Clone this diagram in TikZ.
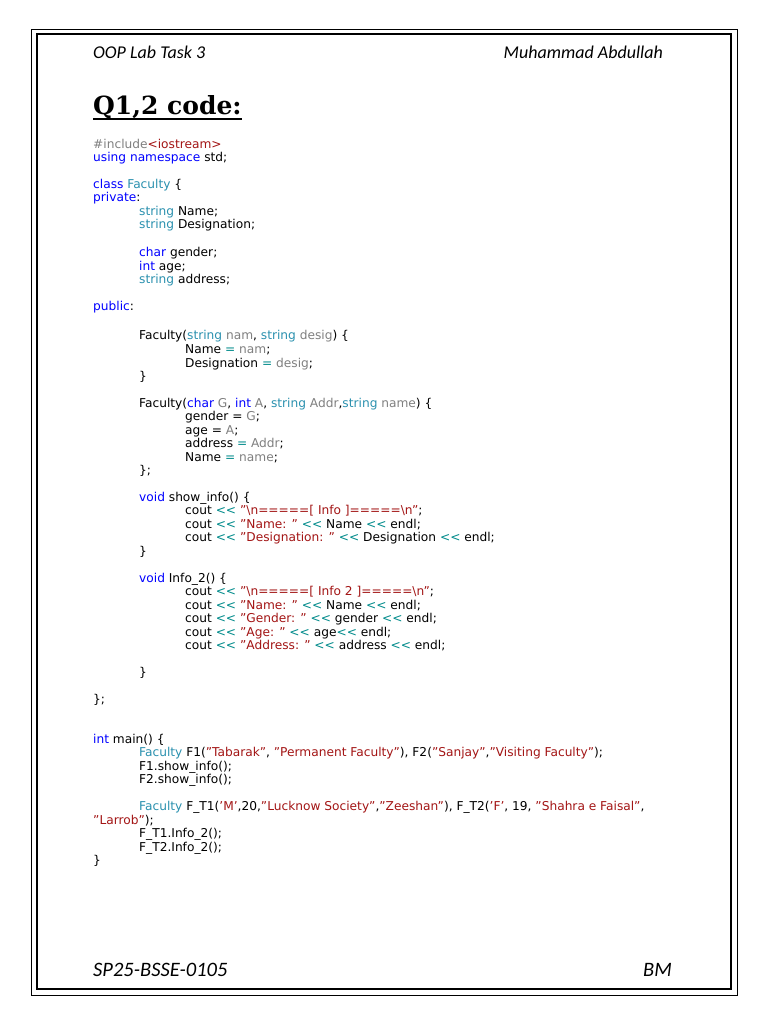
\documentclass[tikz,border=0pt]{standalone}
\usepackage{fontspec}
\usetikzlibrary{calc}
\setmainfont{DejaVu Sans}
\newfontfamily\hdr{Carlito}
\newfontfamily\ttl{DejaVu Serif}
\definecolor{kwc}{HTML}{0000FF}
\definecolor{tyc}{HTML}{2B91AF}
\definecolor{stc}{HTML}{A31515}
\definecolor{opc}{HTML}{008B8B}
\definecolor{grc}{HTML}{808080}
\newcommand\kw[1]{\textcolor{kwc}{#1}}
\newcommand\ty[1]{\textcolor{tyc}{#1}}
\newcommand\st[1]{\textcolor{stc}{#1}}
\newcommand\op[1]{\textcolor{opc}{#1}}
\newcommand\gr[1]{\textcolor{grc}{#1}}
\newcommand\LL{\op{<{}<}}
\begin{document}
\begin{tikzpicture}[x=1pt,y=-1pt,
  code/.style={anchor=base west,inner sep=0pt,font=\fontsize{12.2}{14}\selectfont},
  hd/.style={inner sep=0pt,font=\hdr\itshape\fontsize{18}{20}\selectfont}]
\useasboundingbox (0,0) rectangle (768,1024);
\fill[white] (0,0) rectangle (768,1024);
\draw[line width=0.8pt] (31,29) rectangle (737,995);
\draw[line width=1.6pt] (37,34) rectangle (731,989);
\node[hd,anchor=base west] (h1) at (93,59) {OOP Lab Task 3};
\node[hd,anchor=base east] (h2) at (663,59) {Muhammad Abdullah};
\node[anchor=base west,inner sep=0pt,font=\ttl\bfseries\fontsize{25}{28}\selectfont] (t) at (93,115) {Q1,2 code:};
\draw[line width=1.5pt] ($(t.base west)+(0,4)$) -- ($(t.base east)+(0,4)$);
\node[hd,anchor=base west,font=\hdr\itshape\fontsize{20.5}{22}\selectfont] (f1) at (93,976) {SP25-BSSE-0105};
\node[hd,anchor=base east,font=\hdr\itshape\fontsize{20.5}{22}\selectfont] (f2) at (672,976) {BM};
\def\A{93}\def\B{139}\def\C{185}
\node[code] (c1) at (\A,149) {\gr{\#include}\st{<iostream>}};
\node[code] (c2) at (\A,162) {\kw{using namespace} std;};
\node[code] (c3) at (\A,189) {\kw{class} \ty{Faculty} \{};
\node[code] (c4) at (\A,202) {\kw{private}:};
\node[code] (c5) at (\B,216) {\ty{string} Name;};
\node[code] (c6) at (\B,229) {\ty{string} Designation;};
\node[code] (c7) at (\B,256) {\kw{char} gender;};
\node[code] (c8) at (\B,270) {\kw{int} age;};
\node[code] (c9) at (\B,283) {\ty{string} address;};
\node[code] (c10) at (\A,310) {\kw{public}:};
\node[code] (c11) at (\B,339) {Faculty(\ty{string} \gr{nam}, \ty{string} \gr{desig}) \{};
\node[code] (c12) at (\C,353) {Name \op{=} \gr{nam};};
\node[code] (c13) at (\C,367) {Designation \op{=} \gr{desig};};
\node[code] (c14) at (\B,380) {\}};
\node[code] (c15) at (\B,407) {Faculty(\kw{char} \gr{G}, \kw{int} \gr{A}, \ty{string} \gr{Addr},\ty{string} \gr{name}) \{};
\node[code] (c16) at (\C,420) {gender = \gr{G};};
\node[code] (c17) at (\C,434) {age = \gr{A};};
\node[code] (c18) at (\C,447) {address \op{=} \gr{Addr};};
\node[code] (c19) at (\C,461) {Name \op{=} \gr{name};};
\node[code] (c20) at (\B,474) {\};};
\node[code] (c21) at (\B,501) {\kw{void} show\_info() \{};
\node[code] (c22) at (\C,514) {cout \LL{} \st{"\textbackslash n=====[ Info ]=====\textbackslash n"};};
\node[code] (c23) at (\C,528) {cout \LL{} \st{"Name: "} \LL{} Name \LL{} endl;};
\node[code] (c24) at (\C,541) {cout \LL{} \st{"Designation: "} \LL{} Designation \LL{} endl;};
\node[code] (c25) at (\B,555) {\}};
\node[code] (c26) at (\B,582) {\kw{void} Info\_2() \{};
\node[code] (c27) at (\C,595) {cout \LL{} \st{"\textbackslash n=====[ Info 2 ]=====\textbackslash n"};};
\node[code] (c28) at (\C,609) {cout \LL{} \st{"Name: "} \LL{} Name \LL{} endl;};
\node[code] (c29) at (\C,622) {cout \LL{} \st{"Gender: "} \LL{} gender \LL{} endl;};
\node[code] (c30) at (\C,636) {cout \LL{} \st{"Age: "} \LL{} age\LL{} endl;};
\node[code] (c31) at (\C,649) {cout \LL{} \st{"Address: "} \LL{} address \LL{} endl;};
\node[code] (c32) at (\B,676) {\}};
\node[code] (c33) at (\A,703) {\};};
\node[code] (c34) at (\A,743) {\kw{int} main() \{};
\node[code] (c35) at (\B,756) {\ty{Faculty} F1(\st{"Tabarak"}, \st{"Permanent Faculty"}), F2(\st{"Sanjay"},\st{"Visiting Faculty"});};
\node[code] (c36) at (\B,770) {F1.show\_info();};
\node[code] (c37) at (\B,783) {F2.show\_info();};
\node[code] (c38) at (\B,810) {\ty{Faculty} F\_T1(\st{'M'},20,\st{"Lucknow Society"},\st{"Zeeshan"}), F\_T2(\st{'F'}, 19, \st{"Shahra e Faisal"},};
\node[code] (c39) at (\A,824) {\st{"Larrob"});};
\node[code] (c40) at (\B,837) {F\_T1.Info\_2();};
\node[code] (c41) at (\B,851) {F\_T2.Info\_2();};
\node[code] (c42) at (\A,864) {\}};
\end{tikzpicture}
\end{document}
